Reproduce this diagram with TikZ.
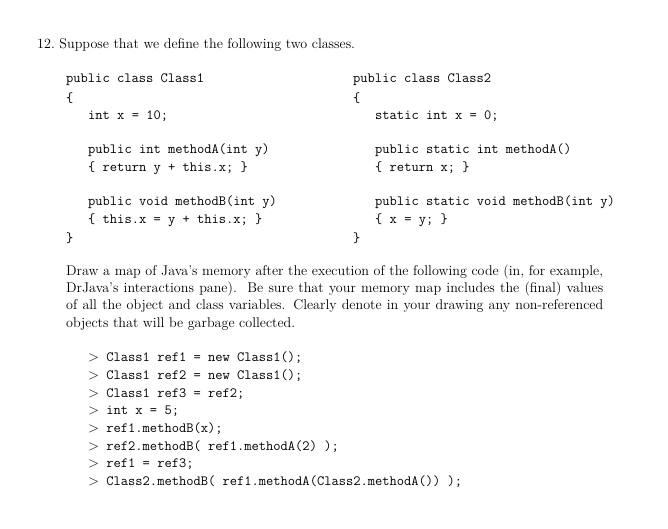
\documentclass[tikz,border=0pt]{standalone}
\begin{document}
\begin{tikzpicture}[x=1pt,y=-1pt,
  rm/.style={anchor=west,inner sep=0pt,font=\fontsize{14.1}{17}\selectfont},
  tt/.style={anchor=west,inner sep=0pt,font=\fontsize{14.1}{17}\selectfont\ttfamily}]
\fill[white] (0,0) rectangle (668,529);
\node[rm] (q) at (37,45) {12.\ Suppose that we define the following two classes.};
% left class
\node[tt] (l1) at (66,80) {public class Class1};
\node[tt] (l2) at (66,98) {\{};
\node[tt] (l3) at (88,116) {int x = 10;};
\node[tt] (l4) at (88,150) {public int methodA(int y)};
\node[tt] (l5) at (88,168) {\{ return y + this.x; \}};
\node[tt] (l6) at (88,202) {public void methodB(int y)};
\node[tt] (l7) at (88,220) {\{ this.x = y + this.x; \}};
\node[tt] (l8) at (66,238) {\}};
% right class
\node[tt] (r1) at (353,80) {public class Class2};
\node[tt] (r2) at (353,98) {\{};
\node[tt] (r3) at (375,116) {static int x = 0;};
\node[tt] (r4) at (375,150) {public static int methodA()};
\node[tt] (r5) at (375,168) {\{ return x; \}};
\node[tt] (r6) at (375,202) {public static void methodB(int y)};
\node[tt] (r7) at (375,220) {\{ x = y; \}};
\node[tt] (r8) at (353,238) {\}};
% paragraph
\node[rm] (p1) at (66,272) {\hbox to 537pt{Draw a map of Java's memory after the execution of the following code (in, for example,}};
\node[rm] (p2) at (66,289) {\hbox to 537pt{DrJava's interactions pane).\ \ Be sure that your memory map includes the (final) values}};
\node[rm] (p3) at (66,306) {\hbox to 537pt{of all the object and class variables. Clearly denote in your drawing any non-referenced}};
\node[rm] (p4) at (66,324) {objects that will be garbage collected.};
% code
\node[tt] (c1) at (88,358) {{\rmfamily$>$} Class1 ref1 = new Class1();};
\node[tt] (c2) at (88,376) {{\rmfamily$>$} Class1 ref2 = new Class1();};
\node[tt] (c3) at (88,394) {{\rmfamily$>$} Class1 ref3 = ref2;};
\node[tt] (c4) at (88,411) {{\rmfamily$>$} int x = 5;};
\node[tt] (c5) at (88,429) {{\rmfamily$>$} ref1.methodB(x);};
\node[tt] (c6) at (88,447) {{\rmfamily$>$} ref2.methodB( ref1.methodA(2) );};
\node[tt] (c7) at (88,464) {{\rmfamily$>$} ref1 = ref3;};
\node[tt] (c8) at (88,482) {{\rmfamily$>$} Class2.methodB( ref1.methodA(Class2.methodA()) );};
\end{tikzpicture}
\end{document}
